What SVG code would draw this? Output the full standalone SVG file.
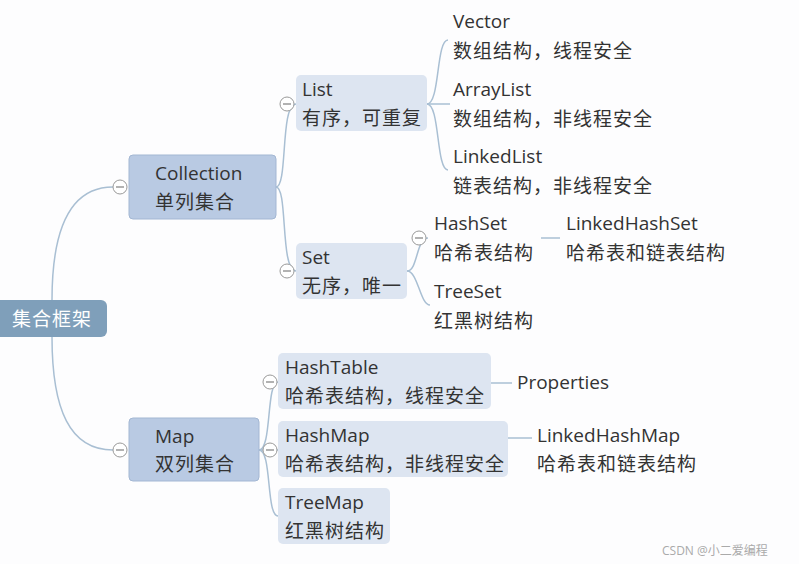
<svg xmlns="http://www.w3.org/2000/svg" width="799" height="564" viewBox="0 0 799 564">
<style>
text{font-family:"Open Sans","Noto Sans CJK SC",sans-serif;font-size:19px;fill:#333}
.z{letter-spacing:1px;font-size:19px}
.c{fill:none;stroke:#a9bfd3;stroke-width:1.5}
.b1{fill:#b9cae3;stroke:#a3b7d3}
.b2{fill:#dde5f1}
.t{fill:#fff}
</style>
<defs><g id="m"><circle r="7" fill="#fff" stroke="#999"/><line x1="-4" x2="4" stroke="#888" stroke-width="1.3"/></g></defs>
<rect width="799" height="564" fill="#fdfdfe"/>
<g id="connectors">
<path class="c" d="M52,300 C52,230 70,187 113,187"/>
<path class="c" d="M52,337 C52,410 70,450 113,450"/>
<path class="c" d="M276,187 C288,187 280,104 296,104"/>
<path class="c" d="M276,187 C288,187 280,271 296,271"/>
<path class="c" d="M427,104 C440,104 436,40 448,40"/>
<path class="c" d="M427,104 L450,104"/>
<path class="c" d="M427,104 C440,104 436,170 448,170"/>
<path class="c" d="M407,271 C418,271 416,238 428,238"/>
<path class="c" d="M407,271 C418,271 420,305 430,305"/>
<path class="c" d="M541,238 L560,238"/>
<path class="c" d="M259,450 C272,450 266,382 278,382"/>
<path class="c" d="M259,450 L278,450"/>
<path class="c" d="M259,450 C272,450 266,516 278,516"/>
<path class="c" d="M491,383 L512,383"/>
<path class="c" d="M508,438 L532,438"/>
</g>
<g id="root"><rect x="-6" y="300" width="113" height="37" rx="6" fill="#7f9fba"/><text class="t z" x="12" y="326">集合框架</text></g>
<g id="collection"><rect class="b1" x="129" y="155" width="147" height="64" rx="4"/><text x="155" y="180">Collection</text><text class="z" x="155" y="209">单列集合</text></g>
<g id="map"><rect class="b1" x="129" y="418" width="130" height="63" rx="4"/><text x="155" y="443">Map</text><text class="z" x="155" y="471">双列集合</text></g>
<g id="list"><rect class="b2" x="296" y="75" width="131" height="56" rx="5"/><text x="302" y="96">List</text><text class="z" x="302" y="125">有序，可重复</text></g>
<g id="set"><rect class="b2" x="296" y="243" width="111" height="56" rx="5"/><text x="302" y="264">Set</text><text class="z" x="302" y="293">无序，唯一</text></g>
<g id="vector"><text x="453" y="28">Vector</text><text class="z" x="453" y="58">数组结构，线程安全</text></g>
<g id="arraylist"><text x="453" y="96">ArrayList</text><text class="z" x="453" y="126">数组结构，非线程安全</text></g>
<g id="linkedlist"><text x="453" y="163">LinkedList</text><text class="z" x="453" y="193">链表结构，非线程安全</text></g>
<g id="hashset"><text x="434" y="230">HashSet</text><text class="z" x="434" y="260">哈希表结构</text></g>
<g id="linkedhashset"><text x="566" y="230">LinkedHashSet</text><text class="z" x="566" y="260">哈希表和链表结构</text></g>
<g id="treeset"><text x="434" y="298">TreeSet</text><text class="z" x="434" y="328">红黑树结构</text></g>
<g id="hashtable"><rect class="b2" x="278" y="353" width="213" height="56" rx="5"/><text x="285" y="374">HashTable</text><text class="z" x="285" y="403">哈希表结构，线程安全</text></g>
<g id="properties"><text x="517" y="389">Properties</text></g>
<g id="hashmap"><rect class="b2" x="278" y="421" width="230" height="56" rx="5"/><text x="285" y="442">HashMap</text><text class="z" x="285" y="471">哈希表结构，非线程安全</text></g>
<g id="linkedhashmap"><text x="537" y="442">LinkedHashMap</text><text class="z" x="537" y="471">哈希表和链表结构</text></g>
<g id="treemap"><rect class="b2" x="278" y="488" width="112" height="56" rx="5"/><text x="285" y="509">TreeMap</text><text class="z" x="285" y="538">红黑树结构</text></g>
<g id="markers">
<use href="#m" x="120" y="187"/><use href="#m" x="120" y="450"/><use href="#m" x="287" y="104"/><use href="#m" x="287" y="271"/><use href="#m" x="419" y="238"/><use href="#m" x="270" y="382"/><use href="#m" x="270" y="450"/>
</g>
<text x="662" y="555" style="font-size:12px;fill:#aaa;letter-spacing:0">CSDN @小二爱编程</text>
</svg>
